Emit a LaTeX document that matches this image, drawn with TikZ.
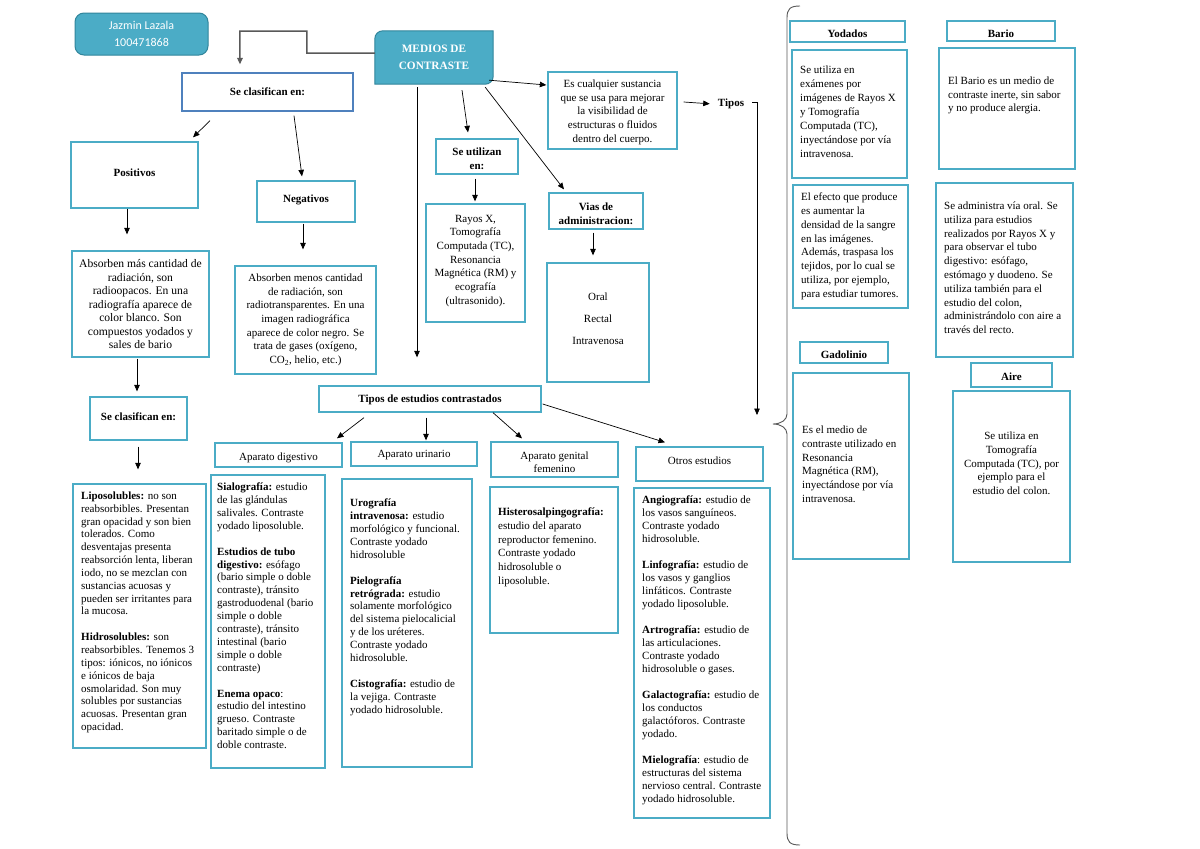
\documentclass[tikz,border=0pt]{standalone}
\usepackage{fontspec}
\setmainfont{Liberation Serif}
\newfontfamily\carl{Carlito}
\usetikzlibrary{arrows.meta,fit,calc}
\definecolor{bc}{RGB}{75,172,198}
\definecolor{bb}{RGB}{79,129,189}
\definecolor{tealf}{RGB}{75,172,198}
\definecolor{teald}{RGB}{49,133,155}
\definecolor{elb}{RGB}{89,89,89}
\begin{document}
\begin{tikzpicture}[x=1pt,y=-1pt,
  bx/.style={inner sep=0pt, draw=bc, line width=1.3pt},
  lb/.style={inner sep=0pt, yshift=-1.8pt, align=center, font=\fontsize{11}{14}\selectfont\bfseries},
  tl/.style={inner sep=0pt, yshift=-1.8pt, anchor=west, align=left, font=\fontsize{11}{#1}\selectfont},
  tc/.style={inner sep=0pt, yshift=-1.8pt, align=center, font=\fontsize{11}{#1}\selectfont},
  arr/.style={-{Triangle[length=6.5pt,width=5.5pt]}, line width=0.7pt, draw=black},
  elbow/.style={-{Triangle[length=6.5pt,width=5.5pt]}, line width=1.5pt, draw=elb},
  every node/.append style={font=\fontsize{11}{13}\selectfont}
]
\useasboundingbox (0,0) rectangle (1200,849);
\fill[white] (0,0) rectangle (1200,849);

% ---------- header boxes ----------
\node[draw=teald, fill=tealf, line width=1pt, rounded corners=9pt, minimum width=133pt, minimum height=42pt, inner sep=0pt, text=white, font=\carl\fontsize{12}{17}\selectfont, align=center] (jaz) at (141.5,34) {Jazmin Lazala\\100471868};

\node[minimum width=118pt, minimum height=53pt, inner sep=0pt] (med) at (434,57.5) {};
\filldraw[fill=tealf, draw=teald, line width=1pt] (med.south west) -- ([yshift=-8pt]med.north west) arc[start angle=180,end angle=90,radius=8pt] -- (med.north east) -- ([yshift=8pt]med.south east) arc[start angle=0,end angle=-90,radius=8pt] -- cycle;
\node[text=white, font=\fontsize{11.3}{17}\selectfont\bfseries, align=center, inner sep=0pt] (medt) at (434,57) {MEDIOS DE\\CONTRASTE};

% ---------- left branch ----------
\node[bx, draw=bb, fit={(182,73) (353,111)}] (scl) {};
\node[lb] (sclt) at (267.5,90) {Se clasifican en:};
\node[bx, fit={(71,142) (198,208)}] (pos) {};
\node[lb] (post) at (134.5,171) {Positivos};
\node[bx, fit={(257,181) (355,222)}] (neg) {};
\node[lb] (negt) at (306,198) {Negativos};
\node[bx, fit={(72,251) (209,357)}] (posd) {};
\node[inner sep=0pt, yshift=-1.8pt, align=center, font=\fontsize{11.6}{13.5}\selectfont] (posdt) at (140.5,302.5) {Absorben más cantidad de\\radiación, son\\radioopacos. En una\\radiografía aparece de\\color blanco. Son\\compuestos yodados y\\sales de bario};
\node[bx, fit={(235,266) (376,374)}] (negd) {};
\node[tc=13.7] (negdt) at (305.5,318) {Absorben menos cantidad\\de radiación, son\\radiotransparentes. En una\\imagen radiográfica\\aparece de color negro. Se\\trata de gases (oxígeno,\\CO\textsubscript{2}, helio, etc.)};
\node[bx, fit={(90,397) (187,440)}] (scl2) {};
\node[lb] (scl2t) at (138.5,415) {Se clasifican en:};
\node[bx, fit={(73,484) (206,748)}] (lipo) {};
\node[tl=12.85] (lipot) at (81,610.5) {\textbf{Liposolubles:} no son\\reabsorbibles. Presentan\\gran opacidad y son bien\\tolerados. Como\\desventajas presenta\\reabsorción lenta, liberan\\iodo, no se mezclan con\\sustancias acuosas y\\pueden ser irritantes para\\la mucosa.\\[12.85pt]\textbf{Hidrosolubles:} son\\reabsorbibles. Tenemos 3\\tipos: iónicos, no iónicos\\e iónicos de baja\\osmolaridad. Son muy\\solubles por sustancias\\acuosas. Presentan gran\\opacidad.};

% ---------- middle branch ----------
\node[bx, fit={(436,139) (518,174)}] (utl) {};
\node[lb] (utlt) at (477,157) {Se utilizan\\en:};
\node[bx, fit={(426,204) (525,322)}] (ray) {};
\node[tc=13.7] (rayt) at (475.5,259) {Rayos X,\\Tomografía\\Computada (TC),\\Resonancia\\Magnética (RM) y\\ecografía\\(ultrasonido).};
\node[bx, fit={(549,193) (643,229)}] (via) {};
\node[lb] (viat) at (596,212) {Vias de\\administracion:};
\node[bx, fit={(547,263) (649,382)}] (oral) {};
\node[tc=22] (oralt) at (598,317) {Oral\\Rectal\\Intravenosa};
\node[bx, fit={(548,72) (677,149)}] (defn) {};
\node[tc=13.75] (defnt) at (612.5,110.5) {Es cualquier sustancia\\que se usa para mejorar\\la visibilidad de\\estructuras o fluidos\\dentro del cuerpo.};
\node[lb] (tipos) at (731,102) {Tipos};

% ---------- study types ----------
\node[bx, fit={(319,386) (541,412)}] (tec) {};
\node[lb] (tect) at (430,398) {Tipos de estudios contrastados};
\node[bx, fit={(215,443) (342,467)}] (adig) {};
\node[tc=13] (adigt) at (278.5,456) {Aparato digestivo};
\node[bx, fit={(351,442) (477,466)}] (auri) {};
\node[tc=13] (aurit) at (414,453.5) {Aparato urinario};
\node[bx, fit={(491,442) (618,477)}] (agen) {};
\node[tc=13.5] (agent) at (554.5,460.5) {Aparato genital\\femenino};
\node[bx, fit={(636,447) (763,481)}] (aotr) {};
\node[tc=13] (aotrt) at (699.5,458.5) {Otros estudios};

\node[bx, fit={(211,475) (325,768)}] (ddig) {};
\node[tl=12.9] (ddigt) at (217,614) {\textbf{Sialografía:} estudio\\de las glándulas\\salivales. Contraste\\yodado liposoluble.\\[12.9pt]\textbf{Estudios de tubo}\\\textbf{digestivo:} esófago\\(bario simple o doble\\contraste), tránsito\\gastroduodenal (bario\\simple o doble\\contraste), tránsito\\intestinal (bario\\simple o doble\\contraste)\\[12.9pt]\textbf{Enema opaco}:\\estudio del intestino\\grueso. Contraste\\baritado simple o de\\doble contraste.};
\node[bx, fit={(342,479) (472,767)}] (duri) {};
\node[tl=12.94] (durit) at (350,605.5) {\textbf{Urografía}\\\textbf{intravenosa:} estudio\\morfológico y funcional.\\Contraste yodado\\hidrosoluble\\[12.94pt]\textbf{Pielografía}\\\textbf{retrógrada:} estudio\\solamente morfológico\\del sistema pielocalicial\\y de los uréteres.\\Contraste yodado\\hidrosoluble.\\[12.94pt]\textbf{Cistografía:} estudio de\\la vejiga. Contraste\\yodado hidrosoluble.};
\node[bx, fit={(490,487) (618,633)}] (dgen) {};
\node[tl=13.8] (dgent) at (498,545.5) {\textbf{Histerosalpingografía:}\\estudio del aparato\\reproductor femenino.\\Contraste yodado\\hidrosoluble o\\liposoluble.};
\node[bx, fit={(634,488) (770,818)}] (dotr) {};
\node[tl=13] (dotrt) at (642,648.5) {\textbf{Angiografía:} estudio de\\los vasos sanguíneos.\\Contraste yodado\\hidrosoluble.\\[13pt]\textbf{Linfografía:} estudio de\\los vasos y ganglios\\linfáticos. Contraste\\yodado liposoluble.\\[13pt]\textbf{Artrografía:} estudio de\\las articulaciones.\\Contraste yodado\\hidrosoluble o gases.\\[13pt]\textbf{Galactografía:} estudio de\\los conductos\\galactóforos. Contraste\\yodado.\\[13pt]\textbf{Mielografía}: estudio de\\estructuras del sistema\\nervioso central. Contraste\\yodado hidrosoluble.};

% ---------- right side ----------
\node[bx, fit={(790,21) (905,42)}] (yod) {};
\node[lb] (yodt) at (847.5,32) {Yodados};
\node[bx, fit={(792,50) (907,178)}] (yod1) {};
\node[tl=14] (yod1t) at (800,110) {Se utiliza en\\exámenes por\\imágenes de Rayos X\\y Tomografía\\Computada (TC),\\inyectándose por vía\\intravenosa.};
\node[bx, fit={(793,185) (908,308)}] (yod2) {};
\node[tl=13.8] (yod2t) at (801,244.5) {El efecto que produce\\es aumentar la\\densidad de la sangre\\en las imágenes.\\Además, traspasa los\\tejidos, por lo cual se\\utiliza, por ejemplo,\\para estudiar tumores.};
\node[bx, fit={(800,342) (888,363)}] (gad) {};
\node[lb] (gadt) at (844,353) {Gadolinio};
\node[bx, fit={(793,373) (909,559)}] (gad1) {};
\node[tl=13.8] (gad1t) at (802,462.5) {Es el medio de\\contraste utilizado en\\Resonancia\\Magnética (RM),\\inyectándose por vía\\intravenosa.};
\node[bx, fit={(947,21) (1055,41)}] (bar) {};
\node[lb] (bart) at (1001,32) {Bario};
\node[bx, fit={(939,48) (1075,169)}] (bar1) {};
\node[tl=13.7] (bar1t) at (948,93.7) {El Bario es un medio de\\contraste inerte, sin sabor\\y no produce alergia.};
\node[bx, fit={(936,183) (1073,357)}] (bar2) {};
\node[tl=13.8] (bar2t) at (944,266) {Se administra vía oral. Se\\utiliza para estudios\\realizados por Rayos X y\\para observar el tubo\\digestivo: esófago,\\estómago y duodeno. Se\\utiliza también para el\\estudio del colon,\\administrándolo con aire a\\través del recto.};
\node[bx, fit={(971,363) (1052,387)}] (aire) {};
\node[lb] (airet) at (1011.5,375) {Aire};
\node[bx, fit={(953,391) (1070,562)}] (aire1) {};
\node[tc=13.8] (aire1t) at (1011.5,461.5) {Se utiliza en\\Tomografía\\Computada (TC), por\\ejemplo para el\\estudio del colon.};

% ---------- connectors ----------
\draw[elbow] ([yshift=4.5pt]med.west) -- ++(-68,0) -- ++(0,-22) -- ++(-67,0) -- ($(scl.north)+(-27.5,-8)$);
\draw[arr] ($(scl.south)+(-57.5,9)$) -- ($(pos.north)+(58.5,-4)$);
\draw[arr] ($(scl.south)+(26.5,4)$) -- ($(neg.north)+(-4,-4)$);
\draw[arr] ($(pos.south)+(-7.5,0)$) -- ($(posd.north)+(-13.5,-16)$);
\draw[arr] ($(neg.south)+(-3,1)$) -- ($(negd.north)+(-2.5,-16)$);
\draw[arr] ($(posd.south)+(-3.5,1)$) -- ($(scl2.north)+(-1.5,-5)$);
\draw[arr] ($(scl2.south)+(-0.5,6)$) -- ($(lipo.north)+(-1.5,-14)$);

\draw[arr] ($(med.south east)+(-4,-4)$) -- ($(defn.west)+(-1,-25.5)$);
\draw[arr] ($(defn.east)+(6,-8.5)$) -- ($(tipos.west)+(-8,0)$);
\draw[arr] ($(med.south)+(-17,3)$) -- ($(tec.north)+(-13,-28)$);
\draw[arr] ($(med.south)+(28,6)$) -- ($(utl.north)+(-9,-6)$);
\draw[arr] ($(utl.south)+(-2,4)$) -- ($(ray.north)+(-0.5,-2)$);
\draw[arr] ($(med.south east)+(-8,3)$) -- ($(via.north)+(-32,-3)$);
\draw[arr] ($(via.south)+(-3,3)$) -- ($(oral.north)+(-5,-7)$);

\draw[arr] ($(tec.south)+(-66,5)$) -- ($(adig.north)+(58.5,-4)$);
\draw[arr] ($(tec.south)+(-4,5)$) -- ($(auri.north)+(12,-1)$);
\draw[arr] ($(tec.south)+(63,0)$) -- ($(agen.north)+(-32.5,-3)$);
\draw[arr] ($(tec.east)+(1,5)$) -- ($(aotr.north)+(-34.5,-4)$);

\coordinate (brk) at (757,415);
\draw[arr] ($(tipos.east)+(8,-1)$) -| (brk);

% brace
\draw[line width=0.9pt, draw=elb] (800,6) .. controls (790,6) and (787,9) .. (787,18) -- (787,414) .. controls (787,420) and (781,424) .. (773,424) .. controls (781,424) and (787,428) .. (787,434) -- (787,833) .. controls (787,842) and (790,845) .. (800,845);
\end{tikzpicture}
\end{document}
